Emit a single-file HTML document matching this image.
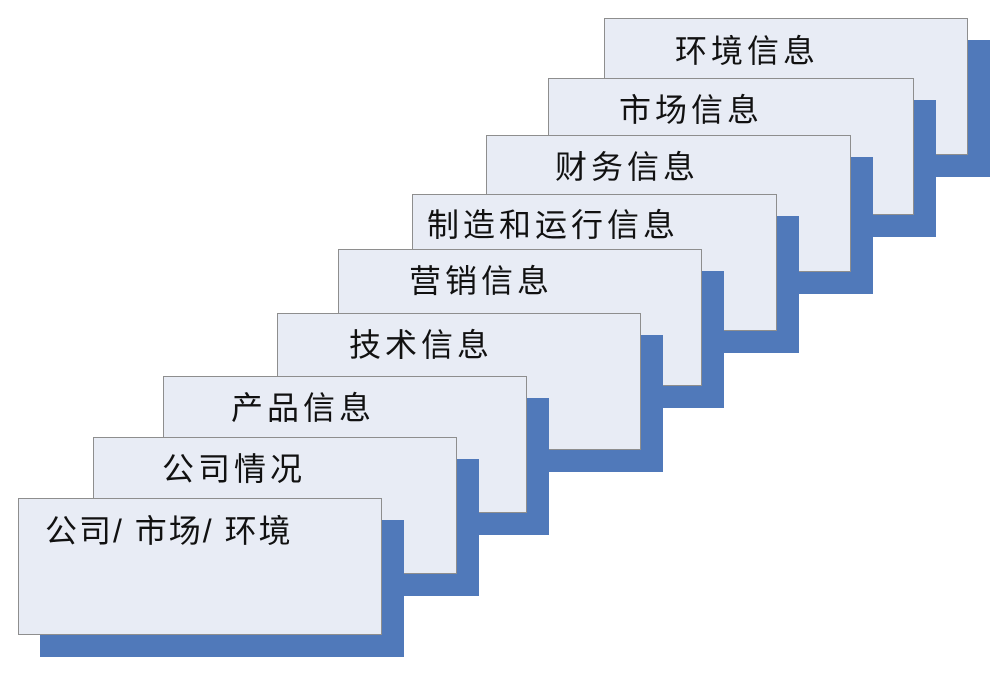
<!DOCTYPE html>
<html><head><meta charset="utf-8"><style>
html,body{margin:0;padding:0;background:#fff;}
#c{position:relative;width:1000px;height:673px;overflow:hidden;}
.s{position:absolute;background:#5079ba;}
.b{position:absolute;background:#e8ecf5;border:1.5px solid #8e8e8e;box-sizing:border-box;}
.t{position:absolute;font-family:"Liberation Sans","Noto Sans CJK SC",sans-serif;font-size:32px;letter-spacing:4px;color:#111;white-space:nowrap;line-height:36px;}
</style></head><body><div id="c">
<div class="s" style="left:626px;top:40px;width:364px;height:137px"></div>
<div class="b" style="left:604px;top:18px;width:364px;height:137px"></div>
<div class="t" style="left:675px;top:33px">环境信息</div>

<div class="s" style="left:570px;top:100px;width:366px;height:137px"></div>
<div class="b" style="left:548px;top:78px;width:366px;height:137px"></div>
<div class="t" style="left:619px;top:92px">市场信息</div>

<div class="s" style="left:508px;top:157px;width:365px;height:137px"></div>
<div class="b" style="left:486px;top:135px;width:365px;height:137px"></div>
<div class="t" style="left:555px;top:149px">财务信息</div>

<div class="s" style="left:434px;top:216px;width:365px;height:137px"></div>
<div class="b" style="left:412px;top:194px;width:365px;height:137px"></div>
<div class="t" style="left:427px;top:207px">制造和运行信息</div>

<div class="s" style="left:360px;top:271px;width:364px;height:137px"></div>
<div class="b" style="left:338px;top:249px;width:364px;height:137px"></div>
<div class="t" style="left:409px;top:263px">营销信息</div>

<div class="s" style="left:299px;top:335px;width:364px;height:137px"></div>
<div class="b" style="left:277px;top:313px;width:364px;height:137px"></div>
<div class="t" style="left:349px;top:327px">技术信息</div>

<div class="s" style="left:185px;top:398px;width:364px;height:137px"></div>
<div class="b" style="left:163px;top:376px;width:364px;height:137px"></div>
<div class="t" style="left:231px;top:390px">产品信息</div>

<div class="s" style="left:115px;top:459px;width:364px;height:137px"></div>
<div class="b" style="left:93px;top:437px;width:364px;height:137px"></div>
<div class="t" style="left:162px;top:451px">公司情况</div>

<div class="s" style="left:40px;top:520px;width:364px;height:137px"></div>
<div class="b" style="left:18px;top:498px;width:364px;height:137px"></div>
<div class="t" style="left:45px;top:513px;letter-spacing:2px">公司/ 市场/ 环境</div>
</div></body></html>
